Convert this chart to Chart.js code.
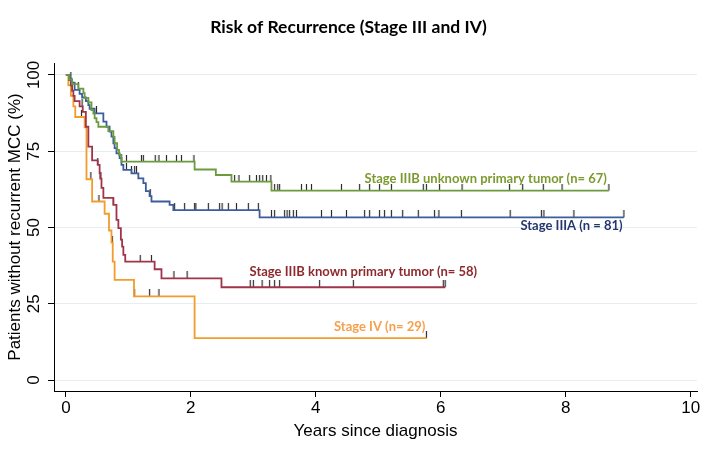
<!DOCTYPE html>
<html lang="en">
<head>
    <meta charset="UTF-8">
    <title>Risk of Recurrence</title>
    <style>
        body {
            margin: 0;
            background-color: white;
        }
        #kmChart {
            display: block;
        }
    </style>
</head>
<body>
    <canvas id="kmChart" width="713" height="460"></canvas>

    <script src="https://cdn.jsdelivr.net/npm/chart.js"></script>
    <script>
        // Kaplan-Meier steps: time (years) and % without recurrence
        const unknownTimes = [0, 0.05, 0.10, 0.20, 0.28, 0.30, 0.36, 0.41, 0.44, 0.46, 0.49, 0.52, 0.68, 0.76, 0.78, 0.82, 0.85, 0.89, 2.06, 2.40, 2.65, 3.29, 8.69];
        const unknownSurv  = [100, 98.5, 97.0, 95.5, 94.0, 92.5, 91.0, 88.5, 87.3, 85.8, 84.5, 83.0, 81.6, 79.7, 77.6, 75.4, 73.8, 71.6, 69.0, 67.2, 65.0, 62.1, 62.1];
        const unknownCensor = [0.20, 0.97, 1.21, 1.24, 1.43, 1.49, 1.61, 1.77, 1.85, 2.05, 2.70, 2.77, 2.94, 3.05, 3.10, 3.15, 3.21, 3.28, 3.34, 3.39, 3.42, 3.77, 3.85, 3.93, 4.41, 4.70, 4.86, 5.02, 5.21, 5.72, 5.77, 5.98, 6.34, 7.10, 7.31, 7.64, 7.94, 8.69];

        const iiiaTimes = [0, 0.06, 0.09, 0.14, 0.22, 0.26, 0.32, 0.36, 0.38, 0.46, 0.60, 0.65, 0.70, 0.73, 0.76, 0.78, 0.81, 0.86, 0.89, 0.92, 1.05, 1.16, 1.24, 1.28, 1.34, 1.37, 1.66, 1.72, 3.10, 8.93];
        const iiiaSurv  = [100, 98.8, 97.5, 95.1, 93.8, 92.6, 91.4, 90.1, 88.9, 87.4, 84.7, 83.0, 81.4, 79.8, 77.6, 76.0, 74.3, 72.7, 70.5, 68.9, 67.7, 66.1, 64.5, 61.9, 60.3, 58.5, 57.4, 55.7, 53.3, 53.3];
        const iiiaCensor = [0.08, 0.49, 0.97, 1.05, 1.10, 1.13, 1.35, 1.74, 1.90, 2.06, 2.08, 2.28, 2.46, 2.50, 2.60, 2.73, 2.92, 3.08, 3.29, 3.34, 3.50, 3.54, 3.58, 3.64, 3.69, 4.09, 4.25, 4.49, 4.78, 4.86, 5.02, 5.10, 5.21, 5.39, 5.64, 5.90, 5.97, 6.33, 7.11, 7.61, 7.65, 8.13, 8.93];

        const knownTimes = [0, 0.05, 0.08, 0.10, 0.12, 0.14, 0.22, 0.27, 0.32, 0.36, 0.42, 0.51, 0.54, 0.55, 0.57, 0.60, 0.76, 0.81, 0.84, 0.88, 0.90, 0.92, 0.95, 1.42, 1.53, 2.49, 6.07];
        const knownSurv  = [100, 98.3, 96.6, 94.8, 93.1, 91.4, 89.7, 87.9, 83.0, 76.5, 72.0, 70.5, 67.8, 66.0, 63.0, 59.7, 57.4, 52.5, 49.8, 46.0, 43.7, 41.0, 38.8, 36.3, 33.3, 30.4, 30.4];
        const knownCensor = [0.26, 0.51, 0.56, 0.76, 1.19, 1.37, 1.73, 1.94, 2.95, 3.00, 3.14, 3.26, 3.34, 3.42, 4.06, 4.60, 6.04, 6.07];

        const stage4Times = [0, 0.04, 0.08, 0.12, 0.15, 0.30, 0.33, 0.42, 0.62, 0.69, 0.73, 0.75, 0.78, 1.09, 2.06, 5.77];
        const stage4Surv  = [100, 96.6, 93.1, 89.7, 86.2, 82.8, 65.8, 58.5, 54.5, 49.0, 45.0, 38.8, 32.8, 27.4, 13.7, 13.7];
        const stage4Censor = [0.25, 0.40, 0.53, 0.745, 1.10, 1.34, 1.49, 5.77];

        const groupNames = ['Stage IIIB unknown primary tumor (n= 67)', 'Stage IIIA (n = 81)', 'Stage IIIB known primary tumor (n= 58)', 'Stage IV (n= 29)'];
        const xTicks = [0, 2, 4, 6, 8, 10];
        const yTicks = [0, 25, 50, 75, 100];

        const lineColors = ['#6b9a3f', '#3d5c9c', '#a0344a', '#f29c2b'];
        const textColors = ['#7b9b30', '#24376f', '#8e2a2e', '#f6a04d'];
        // where each group name sits (years, %), and how it is anchored
        const namePlaces = [
            { x: 4.78, y: 65.9, align: 'left' },
            { x: 8.91, y: 50.5, align: 'right' },
            { x: 2.94, y: 35.6, align: 'left' },
            { x: 4.29, y: 17.4, align: 'left' }
        ];

        function toPoints(times, surv) {
            return times.map((t, i) => ({ x: t, y: surv[i] }));
        }

        // value of the step curve at a censoring time
        function survAt(times, surv, t) {
            let s = surv[0];
            for (let i = 0; i < times.length; i++) {
                if (times[i] <= t) s = surv[i];
            }
            return s;
        }

        function censorPoints(times, surv, censor) {
            return censor.map(t => ({ x: t, y: survAt(times, surv, t) }));
        }

        // little upward tick used as point style for censored patients
        const tickMark = document.createElement('canvas');
        tickMark.width = 3;
        tickMark.height = 14;
        const tctx = tickMark.getContext('2d');
        tctx.strokeStyle = '#2b2b2b';
        tctx.lineWidth = 1.2;
        tctx.beginPath();
        tctx.moveTo(1.5, 0);
        tctx.lineTo(1.5, 7);
        tctx.stroke();

        const groups = [
            [unknownTimes, unknownSurv, unknownCensor],
            [iiiaTimes, iiiaSurv, iiiaCensor],
            [knownTimes, knownSurv, knownCensor],
            [stage4Times, stage4Surv, stage4Censor]
        ];

        const datasets = [];
        groups.forEach((g, i) => {
            datasets.push({
                label: groupNames[i],
                data: toPoints(g[0], g[1]),
                borderColor: lineColors[i],
                borderWidth: 1.8,
                stepped: true,
                pointRadius: 0,
                fill: false
            });
        });
        groups.forEach((g, i) => {
            datasets.push({
                label: groupNames[i] + ' censored',
                data: censorPoints(g[0], g[1], g[2]),
                showLine: false,
                pointStyle: tickMark,
                pointRadius: 5
            });
        });

        const groupLabels = {
            id: 'groupLabels',
            afterDatasetsDraw(chart) {
                const ctx = chart.ctx;
                const xs = chart.scales.x;
                const ys = chart.scales.y;
                ctx.save();
                ctx.font = 'bold 13px Lato, sans-serif';
                ctx.textBaseline = 'middle';
                groupNames.forEach((name, i) => {
                    const p = namePlaces[i];
                    ctx.fillStyle = textColors[i];
                    ctx.textAlign = p.align;
                    ctx.fillText(name, xs.getPixelForValue(p.x), ys.getPixelForValue(p.y));
                });
                ctx.restore();
            }
        };

        new Chart(document.getElementById('kmChart'), {
            type: 'line',
            data: { datasets: datasets },
            options: {
                responsive: false,
                animation: false,
                layout: { padding: { left: 0, right: 16, top: 0, bottom: 0 } },
                plugins: {
                    legend: { display: false },
                    tooltip: { enabled: false },
                    title: {
                        display: true,
                        text: 'Risk of Recurrence (Stage III and IV)',
                        color: '#000',
                        font: { family: 'Lato', size: 17.5, weight: 'bold' },
                        padding: { top: 17, bottom: 25 }
                    }
                },
                scales: {
                    x: {
                        type: 'linear',
                        min: -0.19,
                        max: 10.1,
                        afterBuildTicks: (scale) => { scale.ticks = xTicks.map(v => ({ value: v })); },
                        afterFit: (scale) => { scale.height = 69; },
                        grid: { drawOnChartArea: false, drawTicks: true, tickLength: 6, color: '#000' },
                        border: { display: true, color: '#000', width: 1 },
                        ticks: {
                            color: '#000',
                            padding: 1,
                            maxRotation: 0,
                            font: { family: 'Liberation Sans', size: 17 }
                        },
                        title: {
                            display: true,
                            text: 'Years since diagnosis',
                            color: '#000',
                            font: { family: 'Liberation Sans', size: 17 },
                            padding: { top: 0, bottom: 18 }
                        }
                    },
                    y: {
                        type: 'linear',
                        min: -3.6,
                        max: 103.9,
                        afterBuildTicks: (scale) => { scale.ticks = yTicks.map(v => ({ value: v })); },
                        afterFit: (scale) => { scale.width = 54; },
                        grid: { color: '#e7eef1', tickColor: '#000', tickLength: 6, lineWidth: 1 },
                        border: { display: true, color: '#000', width: 1 },
                        ticks: {
                            color: '#000',
                            padding: 0,
                            minRotation: 90,
                            maxRotation: 90,
                            crossAlign: 'center',
                            font: { family: 'Liberation Sans', size: 17 }
                        },
                        title: {
                            display: true,
                            text: 'Patients without recurrent MCC (%)',
                            color: '#000',
                            font: { family: 'Liberation Sans', size: 17 },
                            padding: { top: 5, bottom: 0 }
                        }
                    }
                }
            },
            plugins: [groupLabels]
        });
    </script>
</body>
</html>
